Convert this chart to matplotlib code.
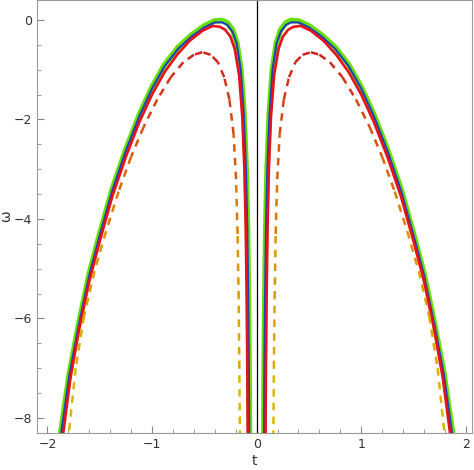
import numpy as np
import matplotlib
matplotlib.use("Agg")
import matplotlib.pyplot as plt
from matplotlib.collections import LineCollection
from matplotlib.colors import LinearSegmentedColormap

# right-branch points (left branch is the mirror image)
green_t = [0.068,0.072,0.078,0.087,0.10,0.12,0.15,0.19,0.23,0.28,0.33,0.40,0.50,0.62,0.75,0.88,1.0,1.12,1.25,1.38,1.5,1.6,1.7,1.79,1.88]
green_w = [-8.4,-7.0,-5.6,-4.2,-3.0,-1.9,-1.0,-0.45,-0.2,-0.06,-0.01,-0.02,-0.12,-0.3,-0.55,-0.9,-1.35,-1.9,-2.6,-3.4,-4.3,-5.1,-6.1,-7.1,-8.4]
blue_t = [0.07,0.074,0.08,0.089,0.102,0.122,0.152,0.19,0.23,0.28,0.33,0.40,0.50,0.62,0.75,0.88,1.0,1.12,1.25,1.38,1.5,1.6,1.7,1.79,1.875]
blue_w = [-8.4,-7.0,-5.6,-4.2,-3.0,-1.9,-1.0,-0.48,-0.24,-0.1,-0.05,-0.05,-0.15,-0.33,-0.58,-0.93,-1.38,-1.93,-2.63,-3.43,-4.33,-5.13,-6.13,-7.13,-8.4]
red_t = [0.085,0.089,0.095,0.104,0.117,0.137,0.168,0.21,0.25,0.30,0.35,0.42,0.52,0.64,0.76,0.88,1.0,1.12,1.25,1.38,1.5,1.6,1.7,1.78,1.855]
red_w = [-8.4,-7.0,-5.6,-4.2,-3.0,-1.95,-1.1,-0.58,-0.34,-0.2,-0.14,-0.12,-0.22,-0.42,-0.7,-1.05,-1.5,-2.05,-2.75,-3.55,-4.45,-5.25,-6.25,-7.2,-8.4]
dash_t = [0.16,0.165,0.172,0.182,0.197,0.22,0.26,0.31,0.37,0.44,0.52,0.6,0.7,0.82,0.95,1.08,1.2,1.32,1.44,1.55,1.65,1.73,1.8]
dash_w = [-8.4,-7.0,-5.6,-4.3,-3.2,-2.3,-1.6,-1.15,-0.85,-0.7,-0.65,-0.7,-0.85,-1.15,-1.6,-2.15,-2.75,-3.45,-4.25,-5.05,-5.95,-7.0,-8.4]

fig = plt.figure(figsize=(4.74, 4.70), dpi=100)
ax = fig.add_axes([0.078, 0.079, 0.918, 0.921])

dash_cmap = LinearSegmentedColormap.from_list("d", ["#d8c000", "#e09000", "#d02020"])

for sgn in (1, -1):
    ax.plot(np.array(green_t) * sgn, green_w, color="#66e000", lw=4.0, solid_capstyle="butt")
    ax.plot(np.array(blue_t) * sgn, blue_w, color="#1f3fbf", lw=1.5)
    ax.plot(np.array(red_t) * sgn, red_w, color="#e8101a", lw=1.9)
    x = np.array(dash_t) * sgn
    y = np.array(dash_w)
    pts = np.array([x, y]).T.reshape(-1, 1, 2)
    segs = np.concatenate([pts[:-1], pts[1:]], axis=1)
    lc = LineCollection(segs, cmap=dash_cmap, norm=plt.Normalize(-8.4, -0.6),
                        linewidths=1.8, linestyles=(0, (3, 2.5)))
    lc.set_array((y[:-1] + y[1:]) / 2)
    ax.add_collection(lc)

ax.axvline(0, color="black", lw=0.9)
ax.set_xlim(-2.1, 2.06)
ax.set_ylim(-8.3, 0.4)
ax.set_xticks([-2, -1, 0, 1, 2])
ax.set_yticks([0, -2, -4, -6, -8])
ax.set_xticks(np.arange(-2, 2.05, 0.2), minor=True)
ax.set_yticks(np.arange(-8, 0.4, 0.5), minor=True)
ax.tick_params(direction="in", which="both", colors="#888888", labelcolor="#333333", labelsize=9)
ax.tick_params(which="major", length=5)
ax.tick_params(which="minor", length=3)
for s in ax.spines.values():
    s.set_color("#999999")
ax.set_xlabel("t", fontsize=10, color="#333333", labelpad=2)
ax.set_ylabel("ω", fontsize=10, color="#333333", labelpad=0)
fig.savefig("out.png", dpi=100)
